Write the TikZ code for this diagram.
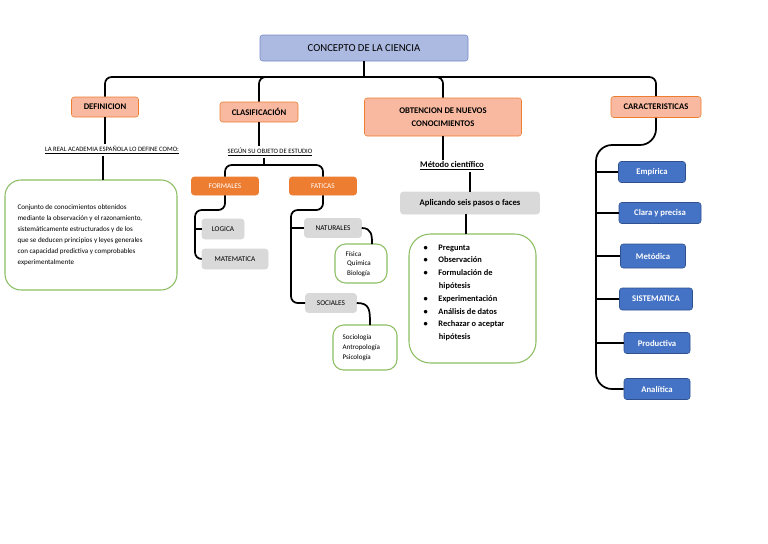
\documentclass[tikz,border=0pt]{standalone}
\usepackage{fontspec}
\setmainfont{Carlito}
\definecolor{tblue}{RGB}{172,185,224}
\definecolor{tbord}{RGB}{120,140,200}
\definecolor{salm}{RGB}{248,185,160}
\definecolor{oran}{RGB}{237,125,49}
\definecolor{cblue}{RGB}{68,114,196}
\definecolor{cbord}{RGB}{47,82,143}
\definecolor{gbord}{RGB}{140,190,100}
\begin{document}
\begin{tikzpicture}
  [x=0.75pt,y=-0.75pt
  ,lin/.style={black,line width=1.3pt,rounded corners=5pt}
  ,box/.style={draw,rounded corners=2pt,inner sep=0pt,font=\fontsize{6.5}{7}\selectfont}
  ,tit/.style={box,fill=tblue,draw=tbord,font=\fontsize{8}{9}\selectfont}
  ,sal/.style={box,fill=salm,draw=oran,font=\fontsize{6.5}{8}\selectfont\bfseries}
  ,ora/.style={box,fill=oran,draw=oran,text=white,font=\fontsize{5.5}{6}\selectfont}
  ,gry/.style={box,fill=gray!30,draw=gray!30,font=\fontsize{5.5}{6}\selectfont}
  ,blu/.style={box,fill=cblue,draw=cbord,text=white,font=\fontsize{6.5}{7}\selectfont\bfseries}
  ,grn/.style={draw=gbord,thick,rounded corners=12pt,fill=white}
  ,lbl/.style={inner sep=1pt,font=\fontsize{5}{6}\selectfont}
  ]
  \useasboundingbox (0,0) rectangle (768,543);
  % top
  \node[tit,minimum width=208*0.75pt,minimum height=26*0.75pt] (tt) at (364,48) {CONCEPTO DE LA CIENCIA};
  \node[sal,minimum width=67*0.75pt,minimum height=20*0.75pt] (def) at (105,107) {DEFINICION};
  \node[sal,minimum width=78*0.75pt,minimum height=20*0.75pt] (cla) at (259,112) {CLASIFICACIÓN};
  \node[sal,minimum width=157*0.75pt,minimum height=38*0.75pt,align=center] (obt) at (443,117) {OBTENCION DE NUEVOS\\[2pt]CONOCIMIENTOS};
  \node[sal,minimum width=90*0.75pt,minimum height=21*0.75pt] (car) at (656,107) {CARACTERISTICAS};
  \coordinate (bus) at (364,77);
  \draw[lin] (tt.south) -- (bus);
  \draw[lin] (def.north) |- (bus) -| (car.north);
  \draw[lin] (cla.north) |- (bus);
  \draw[lin] (obt.north) |- (bus);
  % definicion
  \node[lbl] (rae) at (112,150) {\underline{LA REAL ACADEMIA ESPAÑOLA LO DEFINE COMO:}};
  \draw[grn] (5,180) rectangle (177,290);
  \node[lbl,anchor=north west,align=left,font=\fontsize{5.3}{8.3}\selectfont] (dtx) at (16,203)
    {Conjunto de conocimientos obtenidos\\mediante la observación y el razonamiento,\\sistemáticamente estructurados y de los\\que se deducen principios y leyes generales\\con capacidad predictiva y comprobables\\experimentalmente};
  \coordinate (dtop) at (103,180);
  \draw[lin] (def.south) -- (rae.north -| def.south);
  \draw[lin] (rae.south -| dtop) -- (dtop);
  % clasificacion
  \node[lbl] (seg) at (270,152) {\underline{SEGÚN SU OBJETO DE ESTUDIO}};
  \draw[lin] (cla.south) -- (seg.north -| cla.south);
  \node[ora,minimum width=67*0.75pt,minimum height=18*0.75pt] (for) at (225,186) {FORMALES};
  \node[ora,minimum width=67*0.75pt,minimum height=18*0.75pt] (fat) at (323,186) {FATICAS};
  \coordinate (cs) at (264,165);
  \draw[lin] (seg.south -| cs) -- (cs);
  \draw[lin] (for.north) |- (cs) -| (fat.north);
  \node[gry,minimum width=42*0.75pt,minimum height=20*0.75pt] (log) at (223,229) {LOGICA};
  \node[gry,minimum width=66*0.75pt,minimum height=20*0.75pt] (mat) at (235,259) {MATEMATICA};
  \coordinate (fb) at (195,210);
  \draw[lin] (for.south) |- (fb) |- (mat.west);
  \draw[lin] (fb |- log.west) -- (log.west);
  \node[gry,minimum width=57*0.75pt,minimum height=19*0.75pt] (nat) at (333,228) {NATURALES};
  \node[gry,minimum width=51*0.75pt,minimum height=19*0.75pt] (soc) at (331,303) {SOCIALES};
  \coordinate (tb) at (291,210);
  \draw[lin] (fat.south) |- (tb) |- (soc.west);
  \draw[lin] (tb |- nat.west) -- (nat.west);
  \draw[grn,rounded corners=8pt] (335,244) rectangle (387,283);
  \node[lbl,anchor=north west,align=left,font=\fontsize{5.3}{7}\selectfont] (fq) at (344,250) {Física\\\ Química\\\ Biología};
  \draw[grn,rounded corners=8pt] (333,325) rectangle (397,370);
  \node[lbl,anchor=north west,align=left,font=\fontsize{5.3}{7.5}\selectfont] (sa) at (341,333) {Sociología\\Antropología\\Psicología};
  \draw[lin] (nat.east) .. controls (372,228) and (372,236) .. (372,244);
  \draw[lin] (soc.east) .. controls (370,303) and (370,310) .. (370,325);
  % obtencion
  \node[lbl,font=\fontsize{6.5}{8}\selectfont\bfseries] (met) at (452,166) {\underline{Método científico}};
  \draw[lin] (obt.south) -- (met.north -| obt.south);
  \node[gry,minimum width=139*0.75pt,minimum height=22*0.75pt,font=\fontsize{6.5}{8}\selectfont\bfseries] (apl) at (470,203) {Aplicando seis pasos o faces};
  \draw[lin] (met.south -| apl.north) -- (apl.north);
  \draw[grn,rounded corners=16pt] (409,234) rectangle (536,363);
  \coordinate (lt) at (466,234);
  \draw[lin] (apl.south -| lt) -- (lt);
  \node[lbl,anchor=north west,align=left,font=\fontsize{6.3}{9.6}\selectfont\bfseries] (pas) at (422,243)
    {\textbullet\hspace{8pt}Pregunta\\
     \textbullet\hspace{8pt}Observación\\
     \textbullet\hspace{8pt}Formulación de\\
     \hspace*{11.5pt}hipótesis\\
     \textbullet\hspace{8pt}Experimentación\\
     \textbullet\hspace{8pt}Análisis de datos\\
     \textbullet\hspace{8pt}Rechazar o aceptar\\
     \hspace*{11.5pt}hipótesis};
  % caracteristicas
  \node[blu,minimum width=67*0.75pt,minimum height=21*0.75pt] (c1) at (652,172) {Empírica};
  \node[blu,minimum width=82*0.75pt,minimum height=21*0.75pt] (c2) at (660,213) {Clara y precisa};
  \node[blu,minimum width=65*0.75pt,minimum height=24*0.75pt] (c3) at (653,256) {Metódica};
  \node[blu,minimum width=73*0.75pt,minimum height=22*0.75pt] (c4) at (656,299) {SISTEMATICA};
  \node[blu,minimum width=66*0.75pt,minimum height=21*0.75pt] (c5) at (657,343) {Productiva};
  \node[blu,minimum width=66*0.75pt,minimum height=21*0.75pt] (c6) at (657,389) {Analítica};
  \coordinate (ct) at (596,145);
  \draw[lin,rounded corners=12pt] (car.south) |- (ct) |- (c6.west);
  \foreach \c in {c1,c2,c3,c4,c5} \draw[lin] (ct |- \c.west) -- (\c.west);
\end{tikzpicture}
\end{document}
